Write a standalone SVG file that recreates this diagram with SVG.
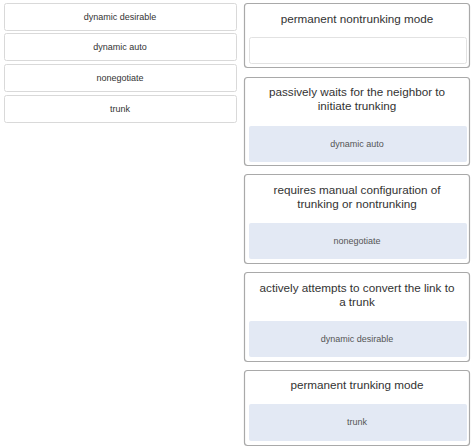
<svg xmlns="http://www.w3.org/2000/svg" width="474" height="448" viewBox="0 0 474 448">
<style>
.src{fill:#fff;stroke:#d9d9d9;stroke-width:1}
.card{fill:#fff;stroke:#a9a9a9;stroke-width:1.2}
.slot{fill:#fff;stroke:#e2e2e2;stroke-width:1}
.filled{fill:#e3e9f4;stroke:none}
.st{font-family:"Liberation Sans",Arial,sans-serif;font-size:9px;fill:#333;text-anchor:middle}
.tt{font-family:"Liberation Sans",Arial,sans-serif;font-size:11.7px;fill:#333;text-anchor:middle}
.ft{font-family:"Liberation Sans",Arial,sans-serif;font-size:9px;fill:#555;text-anchor:middle}
</style>
<rect width="474" height="448" fill="#fff"/>
<g id="opt-dynamic-desirable"><rect class="src" x="4.5" y="3.5" width="232" height="27" rx="2"/><text class="st" x="120" y="19.5">dynamic desirable</text></g>
<g id="opt-dynamic-auto"><rect class="src" x="4.5" y="33.5" width="232" height="27" rx="2"/><text class="st" x="120" y="50">dynamic auto</text></g>
<g id="opt-nonegotiate"><rect class="src" x="4.5" y="64.5" width="232" height="27" rx="2"/><text class="st" x="120" y="81">nonegotiate</text></g>
<g id="opt-trunk"><rect class="src" x="4.5" y="95.5" width="232" height="27" rx="2"/><text class="st" x="120" y="111.5">trunk</text></g>

<g id="card1"><rect class="card" x="244.5" y="3.5" width="225" height="64" rx="3"/><text class="tt" x="357" y="22.5">permanent nontrunking mode</text><rect class="slot" x="249.5" y="37.5" width="217" height="26" rx="2"/></g>
<g id="card2"><rect class="card" x="244.5" y="77.5" width="225" height="88" rx="3"/><text class="tt" x="357" y="96">passively waits for the neighbor to</text><text class="tt" x="357" y="110">initiate trunking</text><rect class="filled" x="249" y="126" width="218" height="36" rx="2"/><text class="ft" x="357" y="147">dynamic auto</text></g>
<g id="card3"><rect class="card" x="244.5" y="174.5" width="225" height="89" rx="3"/><text class="tt" x="357" y="194">requires manual configuration of</text><text class="tt" x="357" y="208">trunking or nontrunking</text><rect class="filled" x="249" y="223" width="218" height="36" rx="2"/><text class="ft" x="357" y="244">nonegotiate</text></g>
<g id="card4"><rect class="card" x="244.5" y="272.5" width="225" height="89" rx="3"/><text class="tt" x="357" y="292">actively attempts to convert the link to</text><text class="tt" x="357" y="306">a trunk</text><rect class="filled" x="249" y="321" width="218" height="36" rx="2"/><text class="ft" x="357" y="342">dynamic desirable</text></g>
<g id="card5"><rect class="card" x="244.5" y="370.5" width="225" height="75" rx="3"/><text class="tt" x="357" y="389">permanent trunking mode</text><rect class="filled" x="249" y="404" width="218" height="37" rx="2"/><text class="ft" x="357" y="425">trunk</text></g>
<g id="connectors"/>
</svg>
